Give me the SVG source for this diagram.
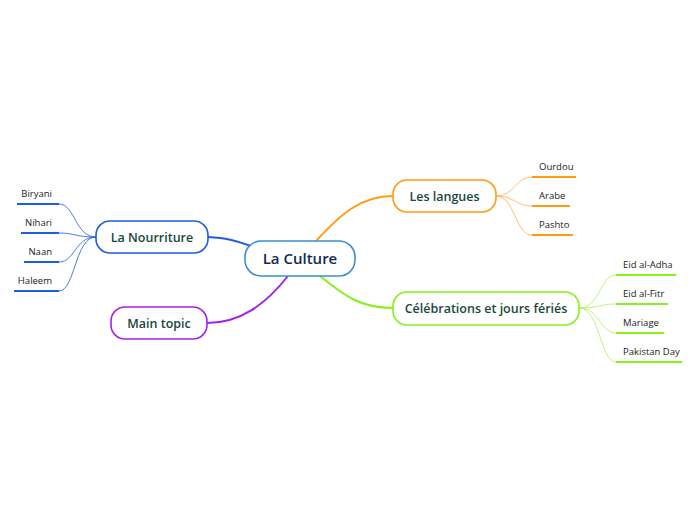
<svg xmlns="http://www.w3.org/2000/svg" width="696" height="520" viewBox="0 0 696 520">
<style>
text{font-family:"Open Sans","Noto Sans",sans-serif;}
.m{font-size:12.5px;fill:#17483a;font-weight:600;text-anchor:middle}
.c{font-size:15px;fill:#0f2a4e;font-weight:600;text-anchor:middle}
.l{font-size:9.5px;fill:#222}
.box{fill:#fff;stroke-width:1.6}
.cn{fill:none}
</style>
<rect width="696" height="520" fill="#fff"/>
<g id="connectors">
<path class="cn" d="M316 241 C340 215,360 196,393 196" stroke="#ff9c0f" stroke-width="2"/>
<path class="cn" d="M320 276 C345 296,360 308,393 308" stroke="#86f01a" stroke-width="2"/>
<path class="cn" d="M253 247 C235 240,225 238,208 237" stroke="#1f5ce0" stroke-width="2"/>
<path class="cn" d="M288 276 C265 305,240 323,207 323" stroke="#a321eb" stroke-width="2"/>
<g stroke="#1f5ce0" stroke-width="0.8" fill="none">
<path d="M96 237 C75 237,75 204,59 204"/><path d="M96 237 C75 237,75 233,59 233"/>
<path d="M96 237 C75 237,75 262,59 262"/><path d="M96 237 C75 237,75 291,59 291"/>
</g>
<g stroke="#ffb04a" stroke-width="0.8" fill="none">
<path d="M496 196 C515 196,515 177,532 177"/><path d="M496 196 C515 196,515 206,532 206"/>
<path d="M496 196 C515 196,515 235,532 235"/>
</g>
<g stroke="#a8f060" stroke-width="0.8" fill="none">
<path d="M579 308 C600 308,600 275,616 275"/><path d="M579 308 C600 308,600 304,616 304"/>
<path d="M579 308 C600 308,600 333,616 333"/><path d="M579 308 C600 308,600 362,616 362"/>
</g>
<g stroke-width="2.2">
<line x1="17" y1="204" x2="59" y2="204" stroke="#1f5ce0"/>
<line x1="21" y1="233" x2="59" y2="233" stroke="#1f5ce0"/>
<line x1="24" y1="262" x2="59" y2="262" stroke="#1f5ce0"/>
<line x1="14" y1="291" x2="59" y2="291" stroke="#1f5ce0"/>
<line x1="532" y1="177" x2="576" y2="177" stroke="#ff9c0f"/>
<line x1="532" y1="206" x2="570" y2="206" stroke="#ff9c0f"/>
<line x1="532" y1="235" x2="573" y2="235" stroke="#ff9c0f"/>
<line x1="616" y1="275" x2="676" y2="275" stroke="#86f01a"/>
<line x1="616" y1="304" x2="668" y2="304" stroke="#86f01a"/>
<line x1="616" y1="333" x2="664" y2="333" stroke="#86f01a"/>
<line x1="616" y1="362" x2="682" y2="362" stroke="#86f01a"/>
</g>
</g>
<g id="center"><rect class="box" x="245" y="241" width="110" height="35" rx="16" stroke="#3a8ed0"/><text class="c" x="300" y="264">La Culture</text></g>
<g id="nourriture"><rect class="box" x="96" y="221" width="112" height="32" rx="14" stroke="#1f5ce0"/><text class="m" x="152" y="242">La Nourriture</text></g>
<g id="maintopic"><rect class="box" x="111" y="307" width="96" height="32" rx="14" stroke="#a321eb"/><text class="m" x="159" y="328">Main topic</text></g>
<g id="langues"><rect class="box" x="393" y="180" width="103" height="32" rx="14" stroke="#ff9c0f"/><text class="m" x="444.5" y="201">Les langues</text></g>
<g id="celebrations"><rect class="box" x="393" y="292" width="186" height="33" rx="14" stroke="#86f01a"/><text class="m" x="486" y="313">Célébrations et jours fériés</text></g>
<g id="leaves" class="l">
<text x="52" y="197" text-anchor="end">Biryani</text>
<text x="52" y="226" text-anchor="end">Nihari</text>
<text x="52" y="255" text-anchor="end">Naan</text>
<text x="52" y="284" text-anchor="end">Haleem</text>
<text x="539" y="170">Ourdou</text>
<text x="539" y="199">Arabe</text>
<text x="539" y="228">Pashto</text>
<text x="623" y="268">Eid al-Adha</text>
<text x="623" y="297">Eid al-Fitr</text>
<text x="623" y="326">Mariage</text>
<text x="623" y="355">Pakistan Day</text>
</g>
</svg>
